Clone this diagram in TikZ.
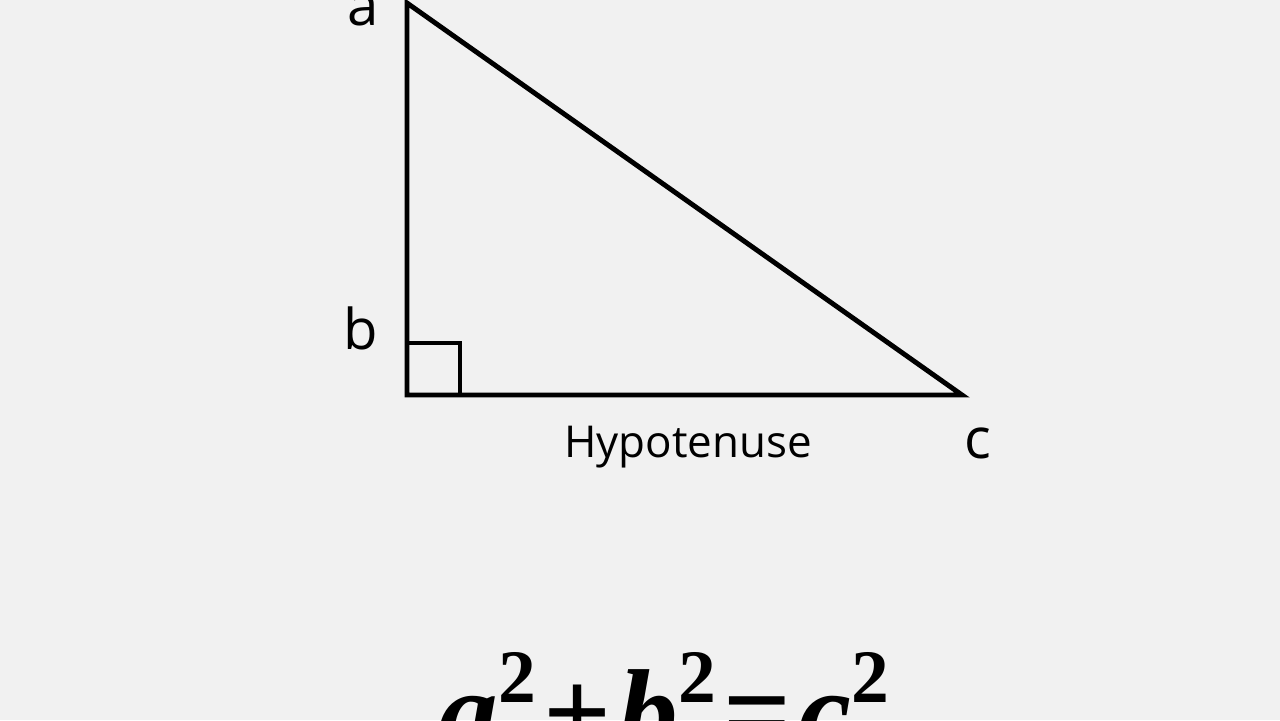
\documentclass[tikz,border=0pt]{standalone}
\usepackage{fontspec}
\setsansfont{Open Sans}
\newfontfamily\lawfont{Liberation Serif}
\usepackage{tikz}
\usetikzlibrary{positioning}
\definecolor{paper}{RGB}{241,241,241}
\newcommand{\sqr}{\raisebox{28pt}{\fontsize{43}{45}\selectfont\upshape 2}}
\newcommand{\lawop}[1]{\kern4pt{\upshape #1}\kern4pt}
\tikzstyle{edgeline} = [line width=2.8pt, line join=miter]
\tikzstyle{vertexlabel} = [font=\sffamily\fontsize{32}{36}\selectfont, anchor=base, inner sep=0pt]
\tikzstyle{sidelabel} = [font=\sffamily\fontsize{25}{28}\selectfont, anchor=base, inner sep=0pt]
\tikzstyle{lawtext} = [font=\lawfont\fontsize{68}{72}\selectfont\bfseries\itshape, anchor=base, inner sep=0pt]

\begin{document}
\begin{tikzpicture}[x=0.02cm, y=-0.02cm]
                \fill [paper] (0,0) rectangle (1280,720);
                \useasboundingbox (0,0) rectangle (1280,720);

                \coordinate (top) at (407,3);
                \coordinate (corner) at (407,395);
                \coordinate (tip) at (962,395);

                \draw [edgeline] (top) -- (corner) -- (tip) -- cycle;
                \draw [edgeline] ([yshift=52*0.02cm]corner) -| ([xshift=53*0.02cm]corner);

                \node (la) [vertexlabel] at (363,25) {a};
                \node (lb) [vertexlabel] at (361,349) {b};
                \node (lc) [vertexlabel] at (978,458) {c};
                \node (hyp) [sidelabel] at (688,457) {Hypotenuse};
                \node (law) [lawtext] at (664,752) {a\sqr\lawop{+}b\sqr\lawop{=}c\sqr};
            \end{tikzpicture}
\end{document}
